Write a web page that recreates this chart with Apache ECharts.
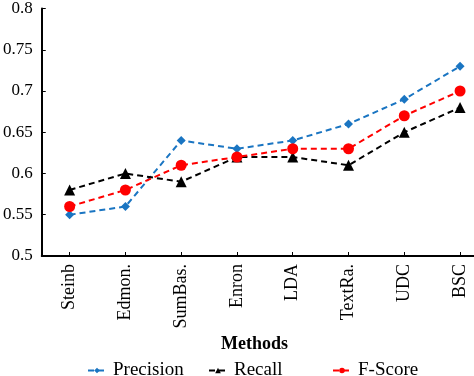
<!DOCTYPE html>
<html>
<head>
<meta charset="utf-8">
<script src="https://cdn.jsdelivr.net/npm/echarts@6/dist/echarts.min.js"></script>
<style>
  html, body { margin: 0; padding: 0; background: #fff; }
  #chart { width: 474px; height: 376px; }
</style>
</head>
<body>
<div id="chart"></div>
<script>
const methods = ['Steinb', 'Edmon.', 'SumBas.', 'Enron', 'LDA', 'TextRa.', 'UDC', 'BSC']
const precision = [0.55, 0.56, 0.64, 0.63, 0.64, 0.66, 0.69, 0.73]
const recall = [0.58, 0.60, 0.59, 0.62, 0.62, 0.61, 0.65, 0.68]
const fScore = [0.56, 0.58, 0.61, 0.62, 0.63, 0.63, 0.67, 0.70]

const C = { blue: '#1a75c2', black: '#000', red: '#f00' }
const FONT = '"Liberation Serif", "DejaVu Serif", serif'
const idx = methods.map((_, i) => i)

const chart = echarts.init(document.getElementById('chart'), null, { renderer: 'canvas' })

function line(name, data, color, symbol, size) {
  return {
    name, type: 'line',
    data: data.map((v, i) => [i, v]),
    symbol, symbolSize: size,
    lineStyle: { color, width: 2, type: [6, 4] },
    itemStyle: { color },
  }
}

function legend(name, left) {
  return {
    data: [name], left, top: 356,
    itemWidth: 18, itemHeight: 7, itemGap: 10,
    textStyle: { fontFamily: FONT, fontSize: 19, color: '#000', padding: [0, 0, 0, 2] },
  }
}

chart.setOption({
  animation: false,
  title: {
    text: 'Methods', left: 216, top: 330,
    textStyle: { fontFamily: FONT, fontSize: 18, fontWeight: 'bold', color: '#000' },
  },
  legend: [legend('Precision', 82), legend('Recall', 203), legend('F-Score', 327)],
  grid: { left: 40, top: 4, right: 0, bottom: 120, containLabel: false },
  xAxis: {
    type: 'value',
    min: -0.5, max: 7.25,
    axisLine: { onZero: false, lineStyle: { color: '#000', width: 2 } },
    axisTick: { show: true, customValues: idx, inside: true, length: 4, lineStyle: { color: '#000' } },
    axisLabel: {
      customValues: idx, rotate: 90, margin: 8,
      fontFamily: FONT, fontSize: 18, color: '#000',
      formatter: v => methods[v],
    },
    splitLine: { show: false },
  },
  yAxis: {
    type: 'value',
    min: 0.5, max: 0.8, interval: 0.05,
    axisLine: { show: true, onZero: false, lineStyle: { color: '#000', width: 2 } },
    axisTick: { show: true, inside: true, length: 4, lineStyle: { color: '#000' } },
    axisLabel: { margin: 9, fontFamily: FONT, fontSize: 17, color: '#000' },
    splitLine: { show: false },
  },
  series: [
    line('Precision', precision, C.blue, 'diamond', 9),
    line('Recall', recall, C.black, 'triangle', 11),
    line('F-Score', fScore, C.red, 'circle', 11),
  ],
})
</script>
</body>
</html>
